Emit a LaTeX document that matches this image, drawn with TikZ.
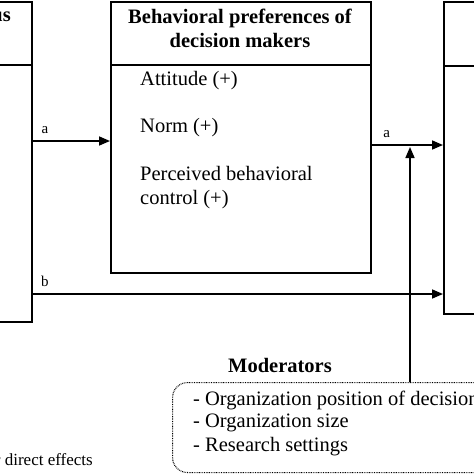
\documentclass[tikz,border=0pt]{standalone}
\usepackage{fontspec}
\setmainfont{Liberation Serif}
\usetikzlibrary{arrows.meta}
\begin{document}
\begin{tikzpicture}[x=1pt,y=-1pt,
  boxstyle/.style={draw=black,line width=1.6pt,rectangle,inner sep=0pt,anchor=north west},
  sepline/.style={line width=1.6pt},
  arr/.style={line width=1.6pt,-{Triangle[length=11pt,width=9pt]}},
  bigtxt/.style={font=\fontsize{20.5}{24}\selectfont,inner sep=0pt},
  boldtxt/.style={font=\fontsize{20.5}{24}\selectfont\bfseries,inner sep=0pt},
  lbl/.style={font=\fontsize{15}{18}\selectfont,inner sep=0pt},
  modbox/.style={draw=black,line width=1.1pt,dash pattern=on 0.8pt off 0.9pt,rounded corners=15pt,rectangle,inner sep=0pt,anchor=north west}
]
\useasboundingbox (0,0) rectangle (474,474);
\fill[white] (0,0) rectangle (474,474);
% boxes
\node[boxstyle,minimum width=131pt,minimum height=320pt] (ante) at (-100,1) {};
\node[boxstyle,minimum width=260pt,minimum height=271pt] (beh) at (110,1) {};
\node[boxstyle,minimum width=160pt,minimum height=312pt] (outc) at (443,1) {};
\node[modbox,minimum width=430pt,minimum height=90pt] (mod) at (172,382) {};
% header separators
\draw[sepline] (ante.west |- 0,65) -- (ante.east |- 0,65);
\draw[sepline] (beh.west |- 0,65) -- (beh.east |- 0,65);
\draw[sepline] (outc.west |- 0,66) -- (outc.east |- 0,66);
% texts
\node[boldtxt,anchor=east] (antehead) at (11,17) {us};
\node[boldtxt,align=center] (behhead) at (240,28) {Behavioral preferences of\\decision makers};
\node[bigtxt,anchor=west] (att) at (140,81) {Attitude (+)};
\node[bigtxt,anchor=west] (norm) at (140,128) {Norm (+)};
\node[bigtxt,anchor=west,align=left] (pbc) at (140,188) {Perceived behavioral\\control (+)};
\node[boldtxt] (modhead) at (280,365) {Moderators};
\node[bigtxt,anchor=west] (m1) at (193,400) {- Organization position of decision makers};
\node[bigtxt,anchor=west] (m2) at (193,423) {- Organization size};
\node[bigtxt,anchor=west] (m3) at (193,447) {- Research settings};
\node[font=\fontsize{17}{20}\selectfont,inner sep=0pt,anchor=east] (note) at (93,460) {r direct effects};
% connectors
\draw[arr] (ante.east |- 0,141) -- (beh.west |- 0,141) node[lbl,pos=0.16,above=7pt] (la1) {a};
\draw[arr] (beh.east |- 0,145) -- (outc.west |- 0,145) node[lbl,pos=0.21,above=7pt] (la2) {a};
\draw[arr] (ante.east |- 0,294) -- (outc.west |- 0,294) node[lbl,pos=0.03,above=7pt] (lb) {b};
\coordinate (mj) at (410,147);
\draw[arr] (mod.north -| mj) -- (mj);
\end{tikzpicture}
\end{document}
